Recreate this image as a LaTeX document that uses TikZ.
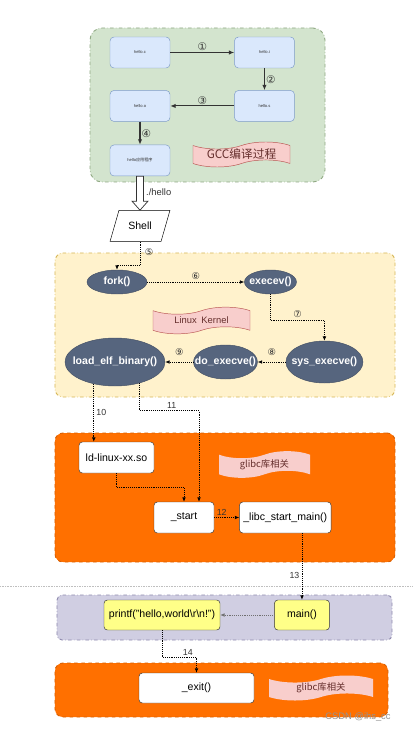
\documentclass[tikz,border=0pt]{standalone}
\usepackage{fontspec}
\setmainfont{Liberation Sans}
\newfontfamily\cjk{Noto Sans CJK SC}
\newfontfamily\circfont{DejaVu Sans}
\usepackage{xcolor}
\definecolor{cGreen}{HTML}{D3E4CE}
\definecolor{cGreenLine}{HTML}{8FA882}
\definecolor{cBlue}{HTML}{DAE8FC}
\definecolor{cBlueLine}{HTML}{7E9CC8}
\definecolor{cPink}{HTML}{F8CECC}
\definecolor{cPinkLine}{HTML}{B85450}
\definecolor{cCream}{HTML}{FFF2CC}
\definecolor{cCreamLine}{HTML}{D6B656}
\definecolor{cSlate}{HTML}{56657E}
\definecolor{cOrange}{HTML}{FF7000}
\definecolor{cOrangeLine}{HTML}{D95F00}
\definecolor{cLilac}{HTML}{D0CEE2}
\definecolor{cLilacLine}{HTML}{8F8AAE}
\definecolor{cLemon}{HTML}{FFFF88}
\definecolor{cInk}{HTML}{333333}
\usepackage{tikz}
\usetikzlibrary{positioning,arrows.meta,calc,shapes.geometric,shapes.symbols}
\newcommand\fitin[1]{\makebox[0pt]{#1}}
\tikzset{
  frame-gcc/.style={draw=cGreenLine,fill=cGreen,dash dot,thick,rounded corners=3.6mm},
  frame-kernel/.style={draw=cCreamLine,fill=cCream,dash dot,thick,rounded corners=2.4mm},
  frame-glibc/.style={draw=cOrangeLine,fill=cOrange,dashed,thick,rounded corners=2.4mm},
  frame-user/.style={draw=cLilacLine,fill=cLilac,dash dot,thick,rounded corners=1.5mm},
  node-gcc/.style={draw=cBlueLine,fill=cBlue,rounded corners=1.2mm,minimum width=18mm,
    minimum height=9.3mm,text=cInk,font=\fontsize{3.5}{4}\selectfont},
  node-call/.style={ellipse,draw=cSlate!80!black,fill=cSlate,text=white,inner sep=0pt,
    font=\fontsize{9}{10}\selectfont\bfseries},
  node-lib/.style={draw=cInk,fill=white,rounded corners=1mm,minimum height=9.3mm,
    font=\fontsize{9}{10}\selectfont},
  node-user/.style={draw=cInk,fill=cLemon,rounded corners=1mm,minimum height=9mm,
    font=\fontsize{9}{10}\selectfont},
  node-shell/.style={trapezium,trapezium left angle=67,trapezium right angle=113,
    trapezium stretches=true,draw=black,fill=white,minimum width=18mm,minimum height=9.3mm,
    font=\fontsize{9}{10}\selectfont},
  node-note/.style={tape,tape bend top=in and out,tape bend bottom=in and out,
    tape bend height=6pt,draw=cPinkLine,fill=cPink,inner sep=0pt,text=cPinkLine!55!black},
  tag-circ/.style={inner sep=0pt,text=cInk,font=\circfont\fontsize{8}{8}\selectfont},
  tag-num/.style={inner sep=0pt,text=cInk,font=\fontsize{7.5}{8}\selectfont},
  arrow-solid/.style={-{Latex[length=1.6mm,width=1.3mm]},line width=0.9pt,draw=cInk},
  arrow-dot/.style={-{Latex[length=1.3mm,width=1.1mm]},densely dotted,line width=0.6pt,draw=black},
}

\begin{document}
\begin{tikzpicture}[x=0.3mm,y=-0.3mm]
  \useasboundingbox (0,0) rectangle (413,732);
  % containers
  \node[frame-gcc,minimum width=70.5mm,minimum height=46.2mm] (fgcc) at (207.5,105) {};
  \node[frame-kernel,minimum width=102mm,minimum height=43.2mm] (fkernel) at (225,325) {};
  \node[frame-glibc,minimum width=102mm,minimum height=38.7mm] (fglibc) at (225,497.5) {};
  \node[frame-user,minimum width=100.5mm,minimum height=13.5mm] (fuser) at (224.5,617.5) {};
  \node[frame-glibc,minimum width=99.9mm,minimum height=16.2mm] (fexit) at (221.5,690) {};
  \draw[densely dotted,gray!50] (0,586) -- (413,586);

  % GCC
  \node[node-gcc] (hc) at (140,52.5) {hello.c};
  \node[node-gcc,right=19.2mm of hc] (hi) {hello.i};
  \node[node-gcc,below=6.6mm of hi] (hs) {hello.s};
  \node[node-gcc,left=19.2mm of hs] (ho) {hello.o};
  \node[node-gcc,below=6.9mm of ho] (hexe) {hello{\cjk 应用程序}};
  \node[node-note,minimum width=29.1mm,minimum height=7.5mm,
    font=\cjk\fontsize{10}{11}\selectfont] (ngcc) at (241.5,154.5) {GCC编译过程};
  \draw[arrow-solid] (hc) -- node[tag-circ,above=1pt,font=\circfont\fontsize{9}{9}\selectfont] (t1) {①} (hi);
  \draw[arrow-solid] (hi) -- node[tag-circ,right=1pt,font=\circfont\fontsize{9}{9}\selectfont] (t2) {②} (hs);
  \draw[arrow-solid] (hs) -- node[tag-circ,above=1pt,font=\circfont\fontsize{9}{9}\selectfont] (t3) {③} (ho);
  \draw[arrow-solid] (ho) -- node[tag-circ,right=1pt,font=\circfont\fontsize{9}{9}\selectfont] (t4) {④} (hexe);

  \node[node-shell,below=10.2mm of hexe] (shell) {Shell};
  \draw[fill=white,draw=cInk,line width=0.6pt]
    ($(hexe.south)+(-3.5,0)$) -- ($(shell.north -| hexe.south)+(-3.5,-9)$)
    -- ($(shell.north -| hexe.south)+(-8,-9)$) -- (shell.north -| hexe.south)
    -- ($(shell.north -| hexe.south)+(8,-9)$) -- ($(shell.north -| hexe.south)+(3.5,-9)$)
    -- ($(hexe.south)+(3.5,0)$) -- cycle;
  \node[tag-num,anchor=west,font=\fontsize{8}{8}\selectfont] (lhello) at (146,192) {./hello};

  % Linux Kernel
  \node[node-call,minimum width=18mm,minimum height=7.2mm] (fork) at (117,282) {\fitin{fork()}};
  \node[node-call,minimum width=15.6mm,minimum height=7.2mm,right=29.1mm of fork] (execev) {\fitin{execev()}};
  \node[node-call,minimum width=30mm,minimum height=14.4mm] (loadelf) at (115,362) {\fitin{load\_elf\_binary()}};
  \node[node-call,minimum width=19.2mm,minimum height=10.2mm,right=8.4mm of loadelf] (doexec) {\fitin{do\_execve()}};
  \node[node-call,minimum width=23.1mm,minimum height=12.6mm,right=8.4mm of doexec] (sysexec) {\fitin{sys\_execve()}};
  \node[node-note,minimum width=29.1mm,minimum height=8mm,font=\fontsize{8}{9}\selectfont] (nkernel) at (201.5,320.5) {Linux\enspace Kernel};
  \draw[arrow-dot] (shell.south) -- ++(0,24) -| (fork.north);
  \node[tag-circ] (t5) at (149,252) {⑤};
  \draw[arrow-dot] (fork) -- node[tag-circ,above=2pt] (t6) {⑥} (execev);
  \draw[arrow-dot] (execev.south) -- ++(0,26) -| node[tag-circ,pos=0.25,above=2pt] (t7) {⑦} (sysexec.north);
  \draw[arrow-dot] (sysexec) -- node[tag-circ,above=5pt] (t8) {⑧} (doexec);
  \draw[arrow-dot] (doexec) -- node[tag-circ,above=5pt] (t9) {⑨} (loadelf);

  % glibc
  \node[node-lib,minimum width=22.5mm] (ldlinux) at (116.5,457.5) {ld-linux-xx.so};
  \node[node-note,draw=none,minimum width=27.3mm,minimum height=8mm,
    font=\cjk\fontsize{8}{9}\selectfont] (nglibc) at (264.5,464.5) {glibc库相关};
  \node[node-lib,minimum width=18mm] (start) at (184,517.5) {\_start};
  \node[node-lib,minimum width=27mm,right=7.5mm of start] (libc) {\_libc\_start\_main()};
  \draw[arrow-dot] (loadelf.226) -- node[tag-num,right=2pt,pos=0.5] (t10) {10} (loadelf.226 |- ldlinux.north);
  \draw[arrow-dot] (loadelf.319) |- node[tag-num,above=2pt,pos=0.77] (t11) {11}
    ($(start.north)+(15,-91)$) -- ($(start.north)+(15,0)$);
  \draw[arrow-dot] (ldlinux.south) |- ($(start.north)+(0,-14)$) -- (start.north);
  \draw[arrow-dot] (start) -- node[tag-num,pos=0.3,above=1pt] (t12) {12} (libc);

  % user code
  \node[node-user,minimum width=34.8mm] (printf) at (162,615) {printf("hello,world\textbackslash r\textbackslash n!")};
  \node[node-user,minimum width=16.5mm,right=16.2mm of printf] (main) {main()};
  \draw[arrow-dot] (libc.south -| main.north) -- node[tag-num,left=2pt,pos=0.63] (t13) {13} (main.north);
  \draw[arrow-dot,draw=cInk!70] (main) -- (printf);

  % exit
  \node[node-lib,minimum width=34.5mm,minimum height=9mm] (exit) at (196.5,688) {\_exit()};
  \node[node-note,draw=none,minimum width=31.2mm,minimum height=7.5mm,
    font=\cjk\fontsize{8}{9}\selectfont] (nglibc2) at (321,688) {glibc库相关};
  \draw[arrow-dot] (printf.south) -- ++(0,27) -| node[tag-num,above=1pt,pos=0.375] (t14) {14} (exit.north);

  \node[text=gray!85,font=\fontsize{8}{9}\selectfont] (mark) at (358,717) {CSDN @ihs\_cc};
\end{tikzpicture}
\end{document}
